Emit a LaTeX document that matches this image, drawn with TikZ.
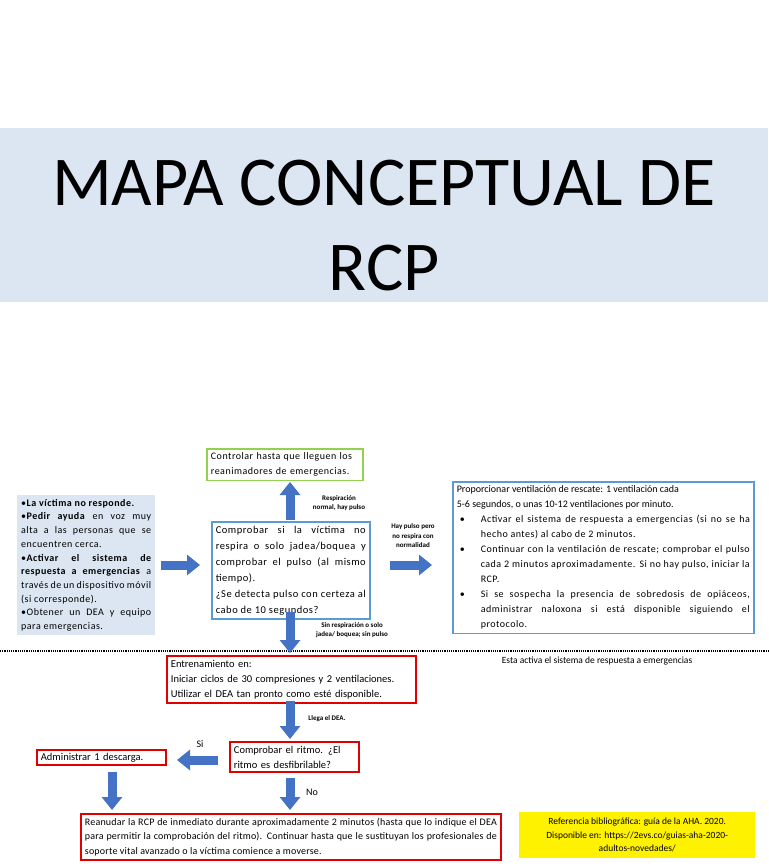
\documentclass[tikz,border=0pt]{standalone}
\usepackage{fontspec}
\setmainfont{Carlito}
\newfontfamily\wide[LetterSpace=5]{Carlito}
\usetikzlibrary{arrows.meta}
\hyphenpenalty=10000
\exhyphenpenalty=10000
\definecolor{bandblue}{HTML}{DCE6F2}
\definecolor{arrblue}{HTML}{4472C4}
\definecolor{boxblue}{HTML}{5B9BD5}
\definecolor{boxgreen}{HTML}{92D050}
\definecolor{boxred}{HTML}{E00000}
\newcommand{\bitem}[1]{\par\hangindent=24pt\hangafter=1\noindent\makebox[24pt][l]{\hspace{3pt}•}#1}
\begin{document}
\begin{tikzpicture}[x=1pt,y=-1pt,
  txt/.style={font=\fontsize{10.5}{15}\selectfont,align=justify,inner sep=4pt,anchor=north west},
  bluebox/.style={draw=boxblue,line width=1.6pt},
  greenbox/.style={draw=boxgreen,line width=1.8pt},
  redbox/.style={draw=boxred,line width=1.8pt},
  lab/.style={font=\fontsize{7}{9.5}\selectfont\bfseries,align=center},
  bigarrow/.style={arrblue,line width=9pt,-{Triangle[width=20pt,length=13pt]}}]
\useasboundingbox (0,0) rectangle (768,866);
\fill[bandblue] (0,128) rectangle (768,302);
\node[font=\fontsize{70}{80}\selectfont] (title1) at (384,183) {MAPA CONCEPTUAL DE};
\node[font=\fontsize{70}{80}\selectfont] (title2) at (384,268) {RCP};

\node[greenbox,txt,text width=148pt,align=left,font=\wide\fontsize{10}{15}\selectfont] (green) at (206,448) {Controlar hasta que lleguen los reanimadores de emergencias.};
\node[fill=bandblue,txt,text width=130pt,font=\wide\fontsize{10}{13.7}\selectfont] (left) at (17,495) {•\textbf{La víctima no responde.}\\ •\textbf{Pedir ayuda} en voz muy alta a las personas que se encuentren cerca.\\ •\textbf{Activar el sistema de respuesta a emergencias} a través de un dispositivo móvil (si corresponde).\\ •Obtener un DEA y equipo para emergencias.};
\node[bluebox,txt,text width=150pt,font=\wide\fontsize{10.5}{16}\selectfont] (center) at (211,521) {Comprobar si la víctima no respira o solo jadea/boquea y comprobar el pulso (al mismo tiempo).\\ ¿Se detecta pulso con certeza al cabo de 10 segundos?};
\node[bluebox,anchor=north west,inner sep=4pt] (right) at (452,481) {\parbox{293pt}{\fontsize{10}{15}\selectfont\parskip=0pt
\noindent Proporcionar ventilación de rescate: 1 ventilación cada\\ 5-6 segundos, o unas 10-12 ventilaciones por minuto.\wide
\bitem{Activar el sistema de respuesta a emergencias (si no se ha hecho antes) al cabo de 2 minutos.}
\bitem{Continuar con la ventilación de rescate; comprobar el pulso cada 2 minutos aproximadamente. Si no hay pulso, iniciar la RCP.}
\bitem{Si se sospecha la presencia de sobredosis de opiáceos, administrar naloxona si está disponible siguiendo el protocolo.}}};

\draw[densely dotted,line width=1.2pt] (0,651) -- (768,651);
\node[font=\fontsize{9.5}{11}\selectfont] (activa) at (597,661) {Esta activa el sistema de respuesta a emergencias};

\node[redbox,txt,text width=241pt,align=left] (red1) at (166,655) {Entrenamiento en:\\ Iniciar ciclos de 30 compresiones y 2 ventilaciones.\\ Utilizar el DEA tan pronto como esté disponible.};
\node[redbox,txt,text width=121pt,align=left] (red2) at (229,741) {Comprobar el ritmo. ¿El\\ ritmo es desfibrilable?};
\node[redbox,txt,text width=121pt,align=left,inner ysep=3pt] (red3) at (36,749) {Administrar 1 descarga.};
\node[redbox,txt,text width=412pt,font=\fontsize{10}{14.5}\selectfont\addfontfeature{LetterSpace=2}] (red4) at (80,813) {Reanudar la RCP de inmediato durante aproximadamente 2 minutos (hasta que lo indique el DEA para permitir la comprobación del ritmo). Continuar hasta que le sustituyan los profesionales de soporte vital avanzado o la víctima comience a moverse.};
\node[fill=yellow,anchor=north west,minimum width=236pt,minimum height=46pt,inner sep=2pt] (yel) at (519,812) {};
\node[font=\fontsize{9.5}{13.5}\selectfont,align=center] (yeltext) at (yel.center) {Referencia bibliográfica: guía de la AHA. 2020.\\ Disponible en: https://2evs.co/guias-aha-2020-\\adultos-novedades/};

% arrows
\coordinate (a1s) at (161,565); \coordinate (a1e) at (200,565);
\draw[bigarrow] (a1s) -- (a1e);
\coordinate (a2s) at (290,520); \coordinate (a2e) at (290,482);
\draw[bigarrow] (a2s) -- (a2e);
\coordinate (a3s) at (390,565); \coordinate (a3e) at (432,565);
\draw[bigarrow] (a3s) -- (a3e);
\coordinate (a4s) at (290,612); \coordinate (a4e) at (290,653);
\draw[bigarrow] (a4s) -- (a4e);
\coordinate (a5s) at (290,701); \coordinate (a5e) at (290,739);
\draw[bigarrow] (a5s) -- (a5e);
\coordinate (a6s) at (218,760); \coordinate (a6e) at (177,760);
\draw[bigarrow] (a6s) -- (a6e);
\coordinate (a7s) at (112,772); \coordinate (a7e) at (112,810);
\draw[bigarrow] (a7s) -- (a7e);
\coordinate (a8s) at (290,778); \coordinate (a8e) at (290,810);
\draw[bigarrow] (a8s) -- (a8e);

\node[lab] (l1) at (339,503) {Respiración\\normal, hay pulso};
\node[lab] (l2) at (413,536) {Hay pulso pero\\no respira con\\normalidad};
\node[lab] (l3) at (352,630) {Sin respiración o solo\\jadea/ boquea; sin pulso};
\node[lab] (l4) at (327,719) {Llega el DEA.};
\node[font=\fontsize{10}{11}\selectfont] (l5) at (200,744) {Si};
\node[font=\fontsize{10}{11}\selectfont] (l6) at (312,792) {No};
\end{tikzpicture}
\end{document}
